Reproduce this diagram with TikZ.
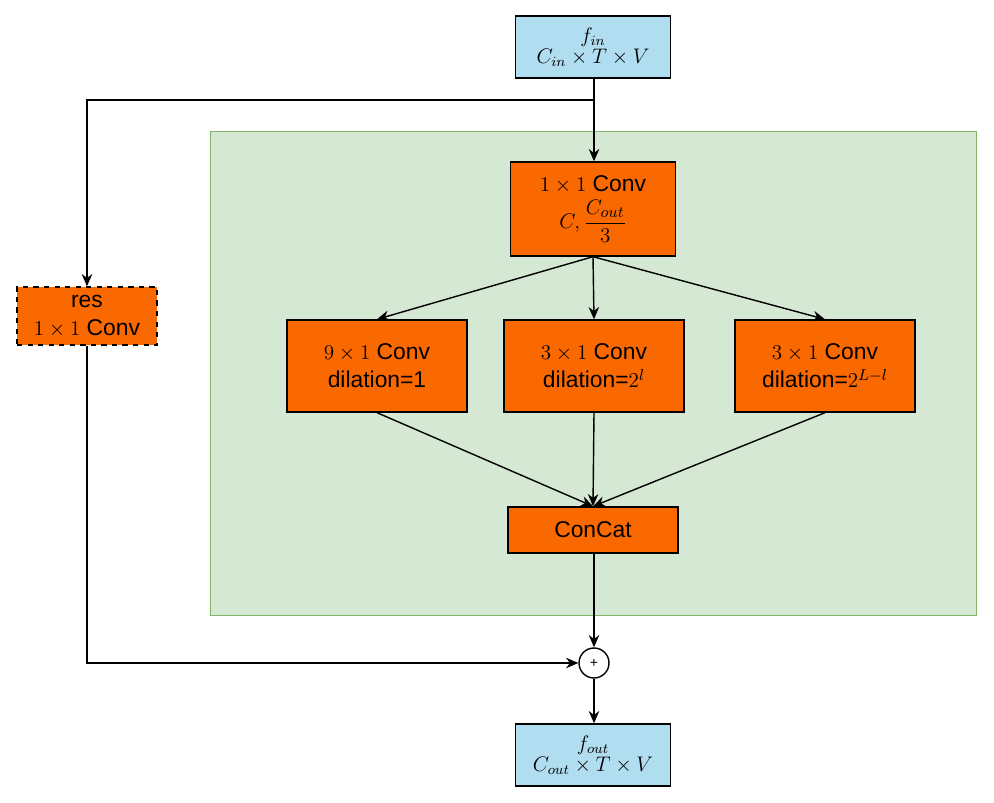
\documentclass[tikz,border=0pt]{standalone}
\usepackage{amsmath}
\usepackage{fontspec}
\setmainfont{Liberation Sans}
\usetikzlibrary{arrows.meta,positioning,calc}

\definecolor{ioblue}{HTML}{B1DDF0}
\definecolor{convorange}{HTML}{FA6800}
\definecolor{bggreen}{HTML}{D5E8D4}
\definecolor{bgborder}{HTML}{82B366}

\tikzset{
    io/.style={draw, thick, fill=ioblue, minimum width=3.1cm, minimum height=1.24cm, align=center, inner sep=1pt, font=\fontsize{11.5}{12}\selectfont},
    conv/.style={draw, thick, fill=convorange, align=center, inner sep=1pt, font=\fontsize{13}{16}\selectfont},
    arr/.style={-{Stealth[length=7pt,width=6pt]}, thick},
}

\begin{document}
\begin{tikzpicture}[x=0.02cm, y=-0.02cm]
    \useasboundingbox (0,0) rectangle (994,803);

        % background block
        \draw[bgborder, fill=bggreen] (210,131) rectangle (976,615);

        \node[io] (fin) at (593,47) {$f_{in}$\\$C_{in}\times T\times V$};
        \node[conv, minimum width=3.3cm, minimum height=1.88cm] (conva) at (593,209) {$1\times1$ Conv\\[3pt]$C,\dfrac{C_{out}}{3}$};

        \node[conv, minimum width=3.6cm, minimum height=1.84cm] (convb) at (377,366) {$9\times1$ Conv\\dilation=1};
        \node[conv, minimum width=3.6cm, minimum height=1.84cm] (convc) at (594,366) {$3\times1$ Conv\\dilation=$2^{l}$};
        \node[conv, minimum width=3.6cm, minimum height=1.84cm] (convd) at (825,366) {$3\times1$ Conv\\dilation=$2^{L-l}$};

        \node[conv, minimum width=3.4cm, minimum height=0.92cm] (cat) at (593,530) {ConCat};
        \node[conv, dashed, minimum width=2.8cm, minimum height=1.16cm] (res) at (87,316) {res\\$1\times1$ Conv};

        \node[draw, thick, circle, fill=white, minimum size=0.6cm, inner sep=0pt, font=\footnotesize] (add) at (594,663) {+};
        \node[io] (fout) at (593,755) {$f_{out}$\\$C_{out}\times T\times V$};

        \coordinate (split) at (594,100);

        \draw[thick] (fin.south -| split) -- (split);
        \draw[arr] (split) -- (conva.north -| split);
        \draw[arr] (split) -| (res.north);

        \draw[arr] (conva.south) -- (convb.north);
        \draw[arr] (conva.south) -- (convc.north);
        \draw[arr] (conva.south) -- (convd.north);

        \draw[arr] (convb.south) -- (cat.north);
        \draw[arr] (convc.south) -- (cat.north);
        \draw[arr] (convd.south) -- (cat.north);

        \draw[arr] (cat.south -| add) -- (add.north);
        \draw[arr] (res.south) |- (add.west);
        \draw[arr] (add.south) -- (fout.north -| add);
    \end{tikzpicture}
\end{document}
